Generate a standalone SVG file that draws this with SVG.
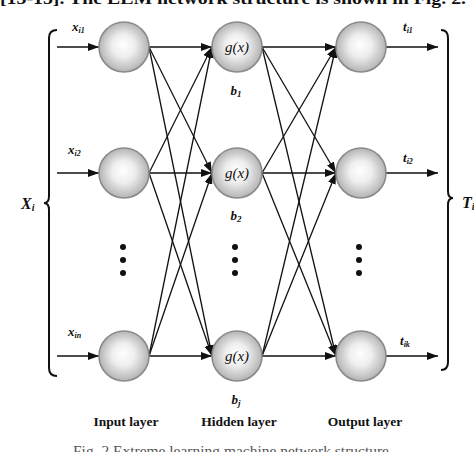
<svg xmlns="http://www.w3.org/2000/svg" width="474" height="452" viewBox="0 0 474 452">
<defs>
<radialGradient id="ball" cx="50%" cy="50%" r="50%" fx="48%" fy="45%">
<stop offset="0" stop-color="#ffffff"/>
<stop offset="0.45" stop-color="#eeeeee"/>
<stop offset="1" stop-color="#b4b4b4"/>
</radialGradient>
<marker id="arr" markerUnits="userSpaceOnUse" markerWidth="12" markerHeight="8" refX="11" refY="4" orient="auto">
<path d="M0,0 L11,4 L0,8 z" fill="#111"/>
</marker>
</defs>
<style>
.node{fill:url(#ball);stroke:#8a8a8a;stroke-width:1.6}
.ln{stroke:#111;stroke-width:1.3;fill:none;marker-end:url(#arr)}
.br{stroke:#111;stroke-width:2;fill:none}
.lab{font-family:"Liberation Serif",serif;font-style:italic;font-weight:bold;font-size:13px;fill:#111}
.g{font-family:"Liberation Serif",serif;font-style:italic;font-size:15px;fill:#111;text-anchor:middle}
.b{font-family:"Liberation Serif",serif;font-style:italic;font-weight:bold;font-size:13px;fill:#111;text-anchor:middle}
.layer{font-family:"Liberation Serif",serif;font-weight:bold;font-size:13.5px;fill:#111;text-anchor:middle}
.big{font-family:"Liberation Serif",serif;font-style:italic;font-weight:bold;font-size:16px;fill:#111}
.dot{fill:#111}
</style>
<text x="0" y="4" font-family="Liberation Serif,serif" font-weight="bold" font-size="16" fill="#111" textLength="466" lengthAdjust="spacingAndGlyphs">[13-15]. The ELM network structure is shown in Fig. 2.</text>
<text x="73" y="456" font-family="Liberation Serif,serif" font-size="14" fill="#555" textLength="316" lengthAdjust="spacingAndGlyphs">Fig. 2 Extreme learning machine network structure</text>
<g id="connectors">
<line class="ln" x1="57" y1="47" x2="99" y2="47"/>
<line class="ln" x1="57" y1="173" x2="99" y2="173"/>
<line class="ln" x1="57" y1="356" x2="99" y2="356"/>
<line class="ln" x1="149" y1="47" x2="212" y2="47"/>
<line class="ln" x1="149" y1="47" x2="212" y2="173"/>
<line class="ln" x1="149" y1="47" x2="212" y2="356"/>
<line class="ln" x1="149" y1="173" x2="212" y2="47"/>
<line class="ln" x1="149" y1="173" x2="212" y2="173"/>
<line class="ln" x1="149" y1="173" x2="212" y2="356"/>
<line class="ln" x1="149" y1="356" x2="212" y2="47"/>
<line class="ln" x1="149" y1="356" x2="212" y2="173"/>
<line class="ln" x1="149" y1="356" x2="212" y2="356"/>
<line class="ln" x1="262" y1="47" x2="336" y2="47"/>
<line class="ln" x1="262" y1="47" x2="336" y2="173"/>
<line class="ln" x1="262" y1="47" x2="336" y2="356"/>
<line class="ln" x1="262" y1="173" x2="336" y2="47"/>
<line class="ln" x1="262" y1="173" x2="336" y2="173"/>
<line class="ln" x1="262" y1="173" x2="336" y2="356"/>
<line class="ln" x1="262" y1="356" x2="336" y2="47"/>
<line class="ln" x1="262" y1="356" x2="336" y2="173"/>
<line class="ln" x1="262" y1="356" x2="336" y2="356"/>
<line class="ln" x1="386" y1="47" x2="438" y2="47"/>
<line class="ln" x1="386" y1="173" x2="438" y2="173"/>
<line class="ln" x1="386" y1="356" x2="438" y2="356"/>
</g>
<g id="input-nodes">
<g id="in1"><circle class="node" cx="124" cy="47" r="25"/></g>
<g id="in2"><circle class="node" cx="124" cy="173" r="25"/></g>
<g id="in3"><circle class="node" cx="124" cy="356" r="25"/></g>
</g>
<g id="hidden-nodes">
<g id="h1"><circle class="node" cx="237" cy="47" r="25"/><text class="g" x="237" y="52">g(x)</text></g>
<g id="h2"><circle class="node" cx="237" cy="173" r="25"/><text class="g" x="237" y="178">g(x)</text></g>
<g id="h3"><circle class="node" cx="237" cy="356" r="25"/><text class="g" x="237" y="361">g(x)</text></g>
</g>
<g id="output-nodes">
<g id="o1"><circle class="node" cx="361" cy="47" r="25"/></g>
<g id="o2"><circle class="node" cx="361" cy="173" r="25"/></g>
<g id="o3"><circle class="node" cx="361" cy="356" r="25"/></g>
</g>
<g id="dots">
<circle class="dot" cx="123" cy="247" r="3"/><circle class="dot" cx="123" cy="260" r="3"/><circle class="dot" cx="123" cy="273" r="3"/>
<circle class="dot" cx="235" cy="247" r="3"/><circle class="dot" cx="235" cy="260" r="3"/><circle class="dot" cx="235" cy="273" r="3"/>
<circle class="dot" cx="359" cy="247" r="3"/><circle class="dot" cx="359" cy="260" r="3"/><circle class="dot" cx="359" cy="273" r="3"/>
</g>
<g id="braces">
<path class="br" d="M57,30 Q49,30 49,38 L49,196 Q49,203 44,203 Q49,203 49,210 L49,368 Q49,376 57,376"/>
<path class="br" d="M441,30 Q448,30 448,38 L448,191 Q448,198 453,198 Q448,198 448,205 L448,362 Q448,370 441,370"/>
</g>
<g id="labels">
<text class="lab" x="72" y="31">x<tspan font-size="8" dy="2">i1</tspan></text>
<text class="lab" x="68" y="154">x<tspan font-size="8" dy="2">i2</tspan></text>
<text class="lab" x="68" y="336">x<tspan font-size="8" dy="2">in</tspan></text>
<text class="lab" x="403" y="31">t<tspan font-size="8" dy="2">i1</tspan></text>
<text class="lab" x="403" y="162">t<tspan font-size="8" dy="2">i2</tspan></text>
<text class="lab" x="400" y="345">t<tspan font-size="8" dy="2">ik</tspan></text>
<text class="b" x="236" y="95">b<tspan font-size="9" dy="2">1</tspan></text>
<text class="b" x="236" y="220">b<tspan font-size="9" dy="2">2</tspan></text>
<text class="b" x="236" y="404">b<tspan font-size="9" dy="2">j</tspan></text>
<text class="big" x="21" y="209">X<tspan font-size="10" dy="2">i</tspan></text>
<text class="big" x="462" y="208">T<tspan font-size="10" dy="2">i</tspan></text>
<text class="layer" x="126" y="426">Input layer</text>
<text class="layer" x="239" y="426">Hidden layer</text>
<text class="layer" x="365" y="426">Output layer</text>
</g>
</svg>
